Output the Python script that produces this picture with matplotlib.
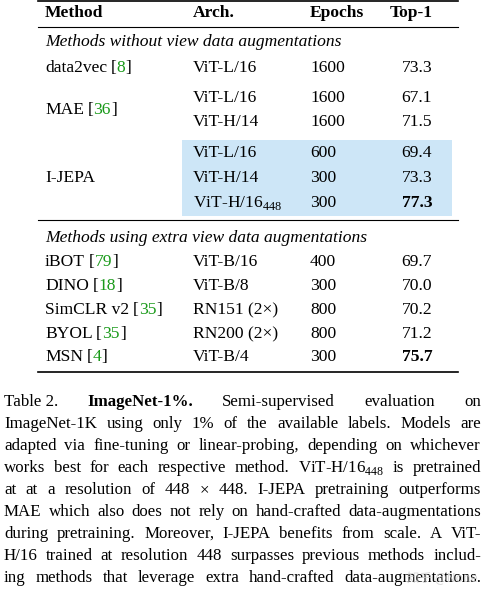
import matplotlib
matplotlib.use("Agg")
import matplotlib.pyplot as plt
from matplotlib.patches import Rectangle

plt.rcParams['font.family'] = ['Liberation Serif', 'Noto Sans CJK SC']
plt.rcParams['mathtext.fontset'] = 'custom'
plt.rcParams['mathtext.rm'] = 'Liberation Serif'

GREEN = '#1a9a1a'

headers = ["Method", "Arch.", "Epochs", "Top-1"]
section1 = "Methods without view data augmentations"
section2 = "Methods using extra view data augmentations"

# (method, cite, arch, epochs, top1, bold)
rows1 = [
    ("data2vec", "8", "ViT-L/16", "1600", "73.3", False),
    ("MAE", "36", "ViT-L/16", "1600", "67.1", False),
    ("", "", "ViT-H/14", "1600", "71.5", False),
    ("I-JEPA", "", "ViT-L/16", "600", "69.4", False),
    ("", "", "ViT-H/14", "300", "73.3", False),
    ("", "", "ViT-H/16$_{448}$", "300", "77.3", True),
]
rows1_y = [68, 98, 122, 153, 178, 203]
method_y = {"MAE": 110, "I-JEPA": 178}
rows2 = [
    ("iBOT", "79", "ViT-B/16", "400", "69.7", False),
    ("DINO", "18", "ViT-B/8", "300", "70.0", False),
    ("SimCLR v2", "35", "RN151 (2×)", "800", "70.2", False),
    ("BYOL", "35", "RN200 (2×)", "800", "71.2", False),
    ("MSN", "4", "ViT-B/4", "300", "75.7", True),
]
rows2_y = [262, 286, 310, 334, 357]

caption = [
    [("Table 2.", 'normal'), ("ImageNet-1%.", 'bold'), ("Semi-supervised", 'normal'), ("evaluation", 'normal'), ("on", 'normal')],
    "ImageNet-1K using only 1% of the available labels. Models are",
    "adapted via fine-tuning or linear-probing, depending on whichever",
    "works best for each respective method. ViT-H/16$_{448}$ is pretrained",
    "at at a resolution of 448 × 448. I-JEPA pretraining outperforms",
    "MAE which also does not rely on hand-crafted data-augmentations",
    "during pretraining. Moreover, I-JEPA benefits from scale. A ViT-",
    "H/16 trained at resolution 448 surpasses previous methods includ-",
    "ing methods that leverage extra hand-crafted data-augmentations.",
]

fig = plt.figure(figsize=(4.85, 5.92), dpi=100)
ax = fig.add_axes([0, 0, 1, 1])
ax.set_xlim(0, 485)
ax.set_ylim(592, 0)
ax.axis('off')

FS = 12.6
xs = [45, 193, 310, 390]

ax.add_patch(Rectangle((182, 140), 270, 76, color='#cde6f7', lw=0, zorder=0))
for y, lw in [(1, 1.2), (27, 0.8), (220, 0.8), (372, 1.2)]:
    ax.plot([38, 458], [y, y], color='black', lw=lw)

for x, h in zip(xs, headers):
    ax.text(x, 13, h, fontsize=FS, weight='bold', va='center')

ax.text(45, 42, section1, fontsize=FS, style='italic', va='center')
ax.text(45, 238, section2, fontsize=FS, style='italic', va='center')

r = fig.canvas.get_renderer()


def right_edge(t):
    bb = t.get_window_extent(r)
    return ax.transData.inverted().transform((bb.x1, 0))[0]


def method_cell(name, cite, y):
    t = ax.text(45, y, name, fontsize=FS, va='center')
    if cite:
        t2 = ax.text(right_edge(t) + 3.5, y, "[", fontsize=FS, va='center')
        t3 = ax.text(right_edge(t2) + 0.3, y, cite, fontsize=FS, va='center', color=GREEN)
        ax.text(right_edge(t3) + 0.3, y, "]", fontsize=FS, va='center')


for (m, c, a, e, t, b), y in zip(rows1, rows1_y):
    if m:
        method_cell(m, c, method_y.get(m, y))
    ax.text(xs[1], y, a, fontsize=FS, va='center')
    ax.text(xs[2], y, e, fontsize=FS, va='center')
    ax.text(417, y, t, fontsize=FS, va='center', ha='center', weight='bold' if b else 'normal')

for (m, c, a, e, t, b), y in zip(rows2, rows2_y):
    method_cell(m, c, y)
    ax.text(xs[1], y, a, fontsize=FS, va='center')
    ax.text(xs[2], y, e, fontsize=FS, va='center')
    ax.text(417, y, t, fontsize=FS, va='center', ha='center', weight='bold' if b else 'normal')

# justified caption
CFS = 12.2
left, right = 4, 481
for i, line in enumerate(caption):
    y = 402 + i * 22
    toks = line if isinstance(line, list) else [(w, 'normal') for w in line.split(' ')]
    texts = [ax.text(0, y, w, fontsize=CFS, weight=wt, va='center') for w, wt in toks]
    widths = []
    for t in texts:
        bb = t.get_window_extent(r)
        widths.append(bb.width * 485 / fig.bbox.width)
    gap = (right - left - sum(widths)) / max(len(texts) - 1, 1)
    x = left
    for t, w in zip(texts, widths):
        t.set_x(x)
        x += w + gap

ax.text(478, 578, "知乎 @None", fontsize=9, color='#d0d0d0', ha='right', va='center',
        family=['Noto Sans CJK SC'], alpha=0.8)

fig.savefig("out.png", dpi=100)
